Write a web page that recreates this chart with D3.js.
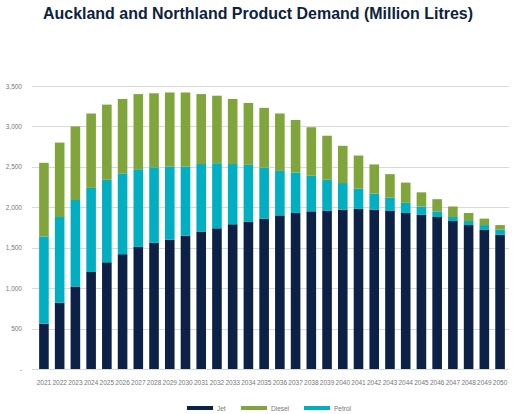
<!DOCTYPE html>
<html>
<head>
<meta charset="utf-8">
<script src="https://cdn.jsdelivr.net/npm/d3@7/dist/d3.min.js"></script>
<style>
  body { margin: 0; background: #fff; }
  text { font-family: "Liberation Sans", Arial, sans-serif; }
</style>
</head>
<body>
<div class="chart"></div>
<script>
// values (million litres)
var years = d3.range(2021, 2051).map(String);
var jet    = [560, 820, 1020, 1200, 1320, 1420, 1510, 1560, 1600, 1650,
              1700, 1740, 1790, 1820, 1860, 1900, 1930, 1950, 1960, 1970,
              1980, 1970, 1960, 1930, 1910, 1880, 1830, 1780, 1720, 1660];
var petrol = [1080, 1060, 1070, 1040, 1020, 1000, 960, 935, 905, 855,
              835, 805, 745, 705, 630, 550, 500, 440, 380, 330,
              250, 200, 160, 125, 100, 70, 50, 50, 60, 65];
var diesel = [910, 920, 910, 920, 930, 920, 930, 915, 915, 915,
              865, 835, 805, 765, 740, 710, 650, 600, 545, 460,
              410, 360, 290, 250, 175, 150, 130, 100, 80, 55];
var yTicks = [0, 500, 1000, 1500, 2000, 2500, 3000, 3500];
var seriesNames = ["Jet", "Diesel", "Petrol"];
var colours = {"Jet": "#0c2145", "Diesel": "#80a63b", "Petrol": "#00afc1"};

var w = 519;
var h = 414;

var svg = d3.select(".chart")
            .append("svg")
            .attr("width", w)
            .attr("height", h);

// title
svg.append("text")
   .attr("x", 43)
   .attr("y", 19)
   .attr("textLength", 430)
   .attr("lengthAdjust", "spacingAndGlyphs")
   .attr("font-size", "17px")
   .attr("font-weight", "bold")
   .attr("fill", "#0d2240")
   .text("Auckland and Northland Product Demand (Million Litres)");

var rows = years.map(function(y, i) {
  return {year: y, Jet: jet[i], Petrol: petrol[i], Diesel: diesel[i]};
});

// stack order bottom->top: Jet, Petrol, Diesel
var stack = d3.stack().keys(["Jet", "Petrol", "Diesel"]);
var layers = stack(rows);

var x = d3.scaleBand().domain(years).range([33, 511]).padding(0.39);
var y = d3.scaleLinear().domain([0, 3500]).range([369, 86]);

// gridlines
svg.append("g")
   .selectAll("line")
   .data(yTicks)
   .enter()
   .append("line")
   .attr("x1", 32)
   .attr("x2", 509)
   .attr("y1", function(d) { return Math.round(y(d)) + 0.5; })
   .attr("y2", function(d) { return Math.round(y(d)) + 0.5; })
   .attr("stroke", "#d9d9d9")
   .attr("stroke-width", 1);

// y labels
svg.append("g")
   .selectAll("text")
   .data(yTicks)
   .enter()
   .append("text")
   .attr("x", 22)
   .attr("y", function(d) { return y(d) + 2.5; })
   .attr("text-anchor", "end")
   .attr("font-size", "6.5px")
   .attr("fill", "#777")
   .text(function(d) { return d === 0 ? "-" : d3.format(",")(d); });

// bars
svg.append("g")
   .selectAll("g")
   .data(layers)
   .enter()
   .append("g")
   .attr("fill", function(d) { return colours[d.key]; })
   .selectAll("rect")
   .data(function(d) { return d; })
   .enter()
   .append("rect")
   .attr("x", function(d) { return x(d.data.year); })
   .attr("y", function(d) { return y(d[1]); })
   .attr("width", x.bandwidth())
   .attr("height", function(d) { return y(d[0]) - y(d[1]); });

// x labels
svg.append("g")
   .selectAll("text")
   .data(years)
   .enter()
   .append("text")
   .attr("x", function(d) { return x(d) + x.bandwidth() / 2; })
   .attr("y", 384.5)
   .attr("text-anchor", "middle")
   .attr("font-size", "6.5px")
   .attr("fill", "#777")
   .text(function(d) { return d; });

// legend
var legendX = [187, 241, 304];
var legend = svg.append("g")
   .selectAll("g")
   .data(seriesNames)
   .enter()
   .append("g")
   .attr("transform", function(d, i) { return "translate(" + legendX[i] + ",406)"; });

legend.append("rect")
   .attr("width", 26)
   .attr("height", 4)
   .attr("fill", function(d) { return colours[d]; });

legend.append("text")
   .attr("x", 30)
   .attr("y", 4.5)
   .attr("font-size", "6.5px")
   .attr("fill", "#777")
   .text(function(d) { return d; });
</script>
</body>
</html>
